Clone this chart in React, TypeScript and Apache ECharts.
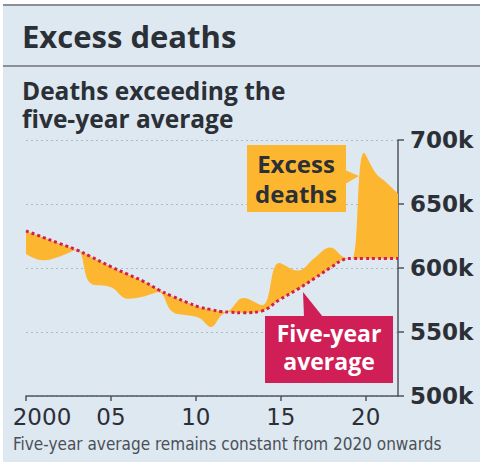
import React, { useEffect, useRef } from "react";
import * as echarts from "echarts";

// Annual deaths in England & Wales (thousands), read along the year axis
const years = [
  2000, 2001, 2002, 2003, 2003.8, 2005, 2006, 2007, 2007.8, 2008.6, 2009.5,
  2010.2, 2010.9, 2011.5, 2012, 2012.8, 2013.9, 2014.9, 2016, 2017, 2017.9,
  2018.8, 2019.2, 2019.9, 2020.6, 2021.2, 2021.9,
];
const actualDeaths = [
  611, 606, 609, 614, 588, 585, 576, 578, 581, 566, 563, 561, 554, 563, 567,
  576.5, 571, 604, 598, 608, 616, 608, 607.5, 690, 674, 667, 658,
];
const fiveYearAverage = [
  629, 624, 619, 614, 609, 601, 595, 589, 583, 578, 573, 569.5, 567.5, 566,
  565.5, 565, 566.5, 575, 583.5, 592, 600, 607, 607.5, 607.5, 607.5, 607.5,
  607.5,
];
const yTickValues = { min: 500, max: 700, step: 50 };
const xTickValues = { min: 2000, max: 2021.9, step: 5 };

const BG = "#dee8f1";
const INK = "#2b2f36";
const ORANGE = "#fdb630";
const CRIMSON = "#d01e56";
const TITLE_FONT = "'Open Sans', 'Noto Sans', sans-serif";
const AXIS_FONT = "'DejaVu Sans', sans-serif";
const SMOOTH = 0.4;

// Same bezier construction that ECharts uses for smoothed line series,
// so the filled band lines up with the dotted average line.
function smoothPath(pts: number[][], smooth: number, start: boolean): string {
  let d = "";
  let prevX = 0, prevY = 0, cpx0 = 0, cpy0 = 0;
  const clamp = (v: number, a: number, b: number) =>
    Math.max(Math.min(v, Math.max(a, b)), Math.min(a, b));
  for (let k = 0; k < pts.length; k++) {
    const [x, y] = pts[k];
    if (k === 0) {
      d += (start ? "M" : "L") + x + " " + y;
      cpx0 = x;
      cpy0 = y;
    } else {
      let cpx1 = x, cpy1 = y, nextCpx0 = x, nextCpy0 = y;
      if (k < pts.length - 1) {
        const [nextX, nextY] = pts[k + 1];
        let vx = nextX - prevX;
        let vy = nextY - prevY;
        const lenPrev = Math.hypot(x - prevX, y - prevY);
        const lenNext = Math.hypot(nextX - x, nextY - y);
        const ratio = lenNext / (lenNext + lenPrev);
        nextCpx0 = clamp(x + vx * smooth * ratio, nextX, x);
        nextCpy0 = clamp(y + vy * smooth * ratio, nextY, y);
        vx = nextCpx0 - x;
        vy = nextCpy0 - y;
        cpx1 = clamp(x - (vx * lenPrev) / lenNext, prevX, x);
        cpy1 = clamp(y - (vy * lenPrev) / lenNext, prevY, y);
        vx = x - cpx1;
        vy = y - cpy1;
        nextCpx0 = x + (vx * lenNext) / lenPrev;
        nextCpy0 = y + (vy * lenNext) / lenPrev;
      }
      d += `C${cpx0} ${cpy0} ${cpx1} ${cpy1} ${x} ${y}`;
      cpx0 = nextCpx0;
      cpy0 = nextCpy0;
    }
    prevX = x;
    prevY = y;
  }
  return d;
}

export default function App() {
  const ref = useRef<HTMLDivElement>(null);

  useEffect(() => {
    if (!ref.current) return;
    const chart = echarts.init(ref.current, null, { renderer: "svg" });

    const avg = years.map((y, i) => [y, fiveYearAverage[i]]);

    chart.setOption({
      animation: false,
      backgroundColor: "#ffffff",
      grid: { left: 26, right: 84, top: 140, bottom: 72 },
      xAxis: {
        type: "value",
        min: xTickValues.min,
        max: xTickValues.max,
        interval: xTickValues.step,
        axisLine: { lineStyle: { color: "#50555c", width: 1.5 } },
        axisTick: { show: true, length: 5, lineStyle: { color: "#50555c", width: 1.5 } },
        splitLine: { show: false },
        axisLabel: {
          showMaxLabel: false,
          margin: 9,
          fontFamily: AXIS_FONT,
          fontSize: 23,
          color: INK,
          formatter: (v: number) =>
            v === 2000 ? "{first|2000}" : "{n|" + String(v).slice(2) + "}",
          rich: {
            first: { padding: [0, 0, 0, 32], fontFamily: AXIS_FONT, fontSize: 23, color: INK },
            n: { fontFamily: AXIS_FONT, fontSize: 23, color: INK },
          },
        },
      },
      yAxis: {
        type: "value",
        position: "right",
        min: yTickValues.min,
        max: yTickValues.max,
        interval: yTickValues.step,
        axisLine: { show: true, lineStyle: { color: "#50555c", width: 1.5 } },
        axisTick: { show: true, length: 6, lineStyle: { color: "#50555c", width: 1.5 } },
        splitLine: { show: true, lineStyle: { color: "#b1bac4", type: [2, 3], width: 1 } },
        axisLabel: {
          margin: 12,
          fontFamily: AXIS_FONT,
          fontWeight: "bold",
          fontSize: 23,
          color: INK,
          formatter: (v: number) => v + "k",
        },
      },
      series: [
        {
          name: "Excess deaths",
          type: "custom",
          data: [[xTickValues.min, yTickValues.min]],
          clip: true,
          silent: true,
          renderItem: (_params: any, api: any) => {
            const top = years.map((y, i) => api.coord([y, actualDeaths[i]]));
            const base = years.map((y, i) => api.coord([y, fiveYearAverage[i]])).reverse();
            return {
              type: "path",
              shape: { pathData: smoothPath(top, SMOOTH, true) + smoothPath(base, SMOOTH, false) + "Z" },
              style: { fill: ORANGE, stroke: null },
            };
          },
        },
        {
          name: "Five-year average",
          type: "line",
          data: avg,
          smooth: SMOOTH,
          symbol: "none",
          lineStyle: { color: CRIMSON, width: 3, type: [3, 3] },
          z: 5,
        },
      ],
      graphic: [
        { type: "rect", z: -10, shape: { x: 3, y: 5, width: 477, height: 457 }, style: { fill: BG } },
        { type: "rect", z: -9, shape: { x: 3, y: 4, width: 477, height: 2 }, style: { fill: "#8b9096" } },
        { type: "rect", z: -9, shape: { x: 3, y: 65, width: 477, height: 2 }, style: { fill: "#8b9096" } },
        {
          type: "text", x: 22, y: 36, z: 10,
          style: { text: "Excess deaths", fill: INK, fontFamily: TITLE_FONT, fontWeight: "bold", fontSize: 31, textVerticalAlign: "middle" },
        },
        {
          type: "text", x: 22, y: 104, z: 10,
          style: {
            text: "Deaths exceeding the\nfive-year average",
            fill: INK, fontFamily: TITLE_FONT, fontWeight: "bold", fontSize: 24.5, lineHeight: 28,
            textVerticalAlign: "middle",
          },
        },
        // "Excess deaths" callout
        { type: "rect", z: 20, shape: { x: 247, y: 145, width: 99, height: 67 }, style: { fill: ORANGE } },
        { type: "polygon", z: 20, shape: { points: [[345, 170], [359, 176], [345, 184]] }, style: { fill: ORANGE } },
        {
          type: "text", x: 296, y: 178, z: 21,
          style: {
            text: "Excess\ndeaths", fill: INK, fontFamily: TITLE_FONT, fontWeight: "bold", fontSize: 24, lineHeight: 30,
            textAlign: "center", textVerticalAlign: "middle",
          },
        },
        // "Five-year average" callout
        { type: "rect", z: 20, shape: { x: 265, y: 316, width: 128, height: 67 }, style: { fill: CRIMSON } },
        { type: "polygon", z: 20, shape: { points: [[303, 292], [304, 317], [323, 317]] }, style: { fill: CRIMSON } },
        {
          type: "text", x: 329, y: 347, z: 21,
          style: {
            text: "Five-year\naverage", fill: "#ffffff", fontFamily: TITLE_FONT, fontWeight: "bold", fontSize: 23, lineHeight: 28,
            textAlign: "center", textVerticalAlign: "middle",
          },
        },
        {
          type: "text", x: 13, y: 444, z: 10,
          style: {
            text: "Five-year average remains constant from 2020 onwards",
            fill: "#4b5057",
            fontFamily: "'DejaVu Sans Condensed', 'Liberation Sans Narrow', sans-serif",
            fontSize: 17,
            textVerticalAlign: "middle",
          },
        },
      ],
    });

    return () => chart.dispose();
  }, []);

  return (
    <div
      ref={ref}
      style={{ position: "fixed", left: 0, top: 0, width: 482, height: 468 }}
    />
  );
}
